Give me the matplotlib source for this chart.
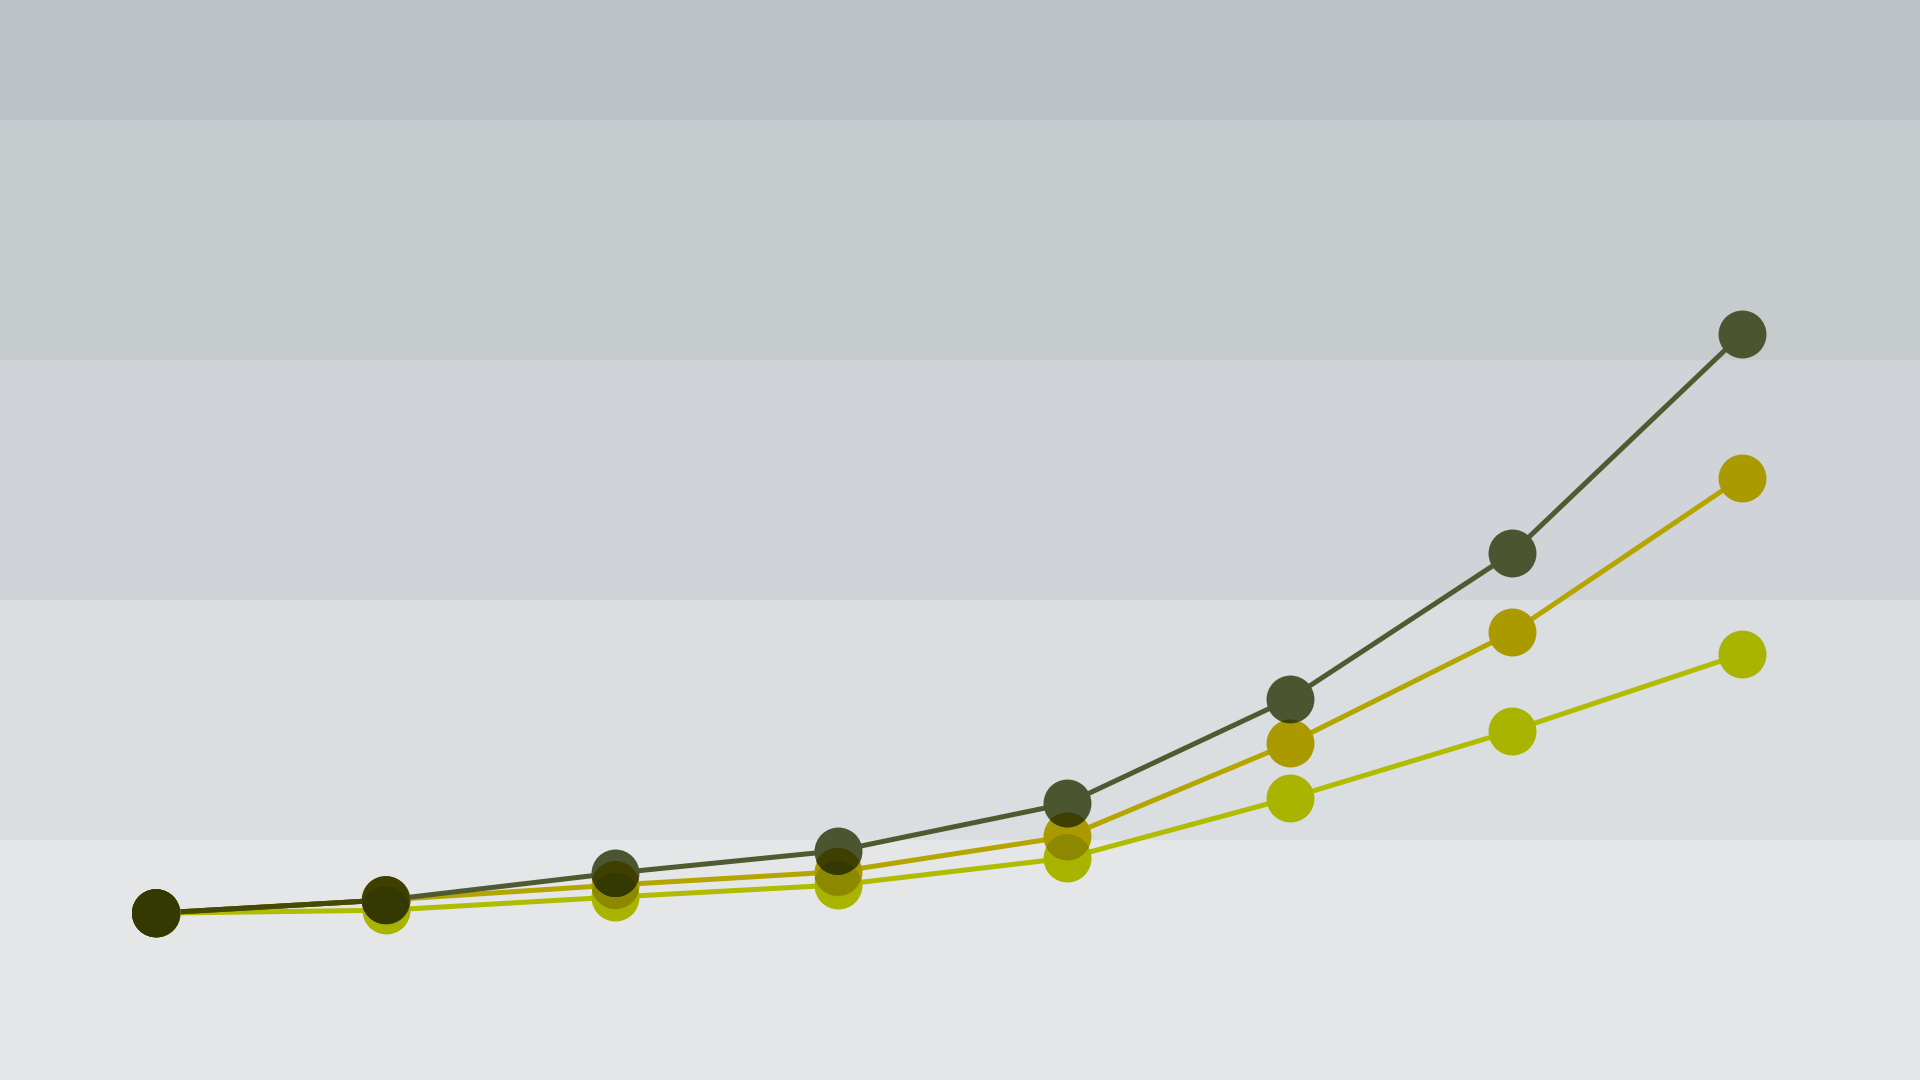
import itertools
import numpy as np
import matplotlib
matplotlib.use("Agg")
import matplotlib.pyplot as plt
from matplotlib.colors import to_rgb
from matplotlib.patches import Polygon
from matplotlib.transforms import IdentityTransform

# Data (x = days from the first observation, y = value)
days = [0, 31, 62, 92, 123, 153, 183, 214]
light = [13.9, 14.15, 15.25, 16.25, 18.5, 23.5, 29.1, 35.5]
gold = [13.9, 15.0, 16.25, 17.35, 20.3, 28.05, 37.3, 50.2]
dark = [13.9, 15.0, 17.25, 19.1, 23.05, 31.75, 43.9, 62.15]

# background bands
band_edges = [0, 20, 40, 60, 80, 90]
band_colors = ['#e4e6e8', '#dadee0', '#d0d4d8', '#c6cbce', '#bdc1c8']

# draw order: light first, dark on top
series = [light, gold, dark]
line_colors = ['#b0bc00', '#b5a500', '#4f5a30']
marker_colors = ['#a8b400', '#aa9a00', '#4b5530']

MS = 34.5      # marker size in points (~48 px)
LW = 3.6
BASE = 0.8     # used for the "multiply" look where marks overlap


def multiply(cols):
    c = np.prod([to_rgb(x) for x in cols], axis=0) / BASE ** (len(cols) - 1)
    return tuple(np.clip(c, 0, 1))


fig = plt.figure(figsize=(19.2, 10.8), dpi=100)
ax = fig.add_axes([0, 0, 1, 1])
ax.set_xlim(-21.05, 238.06)
ax.set_ylim(0, 90)
ax.set_axis_off()

for lo, hi, col in zip(band_edges[:-1], band_edges[1:], band_colors):
    ax.axhspan(lo, hi, color=col, lw=0, zorder=0)

# lines
for vals, lc in zip(series, line_colors):
    ax.plot(days, vals, color=lc, lw=LW, solid_capstyle='butt', zorder=2)

# segments shared by two series look darker
for i in range(len(days) - 1):
    for a, b in itertools.combinations(range(len(series)), 2):
        if series[a][i] == series[b][i] and series[a][i + 1] == series[b][i + 1]:
            ax.plot(days[i:i + 2], series[b][i:i + 2], lw=LW,
                    color=multiply([line_colors[a], line_colors[b]]), zorder=2.5)

# markers
for vals, mc in zip(series, marker_colors):
    ax.plot(days, vals, 'o', ms=MS, color=mc, mec='none', zorder=3)

# overlapping markers: darker intersection regions
r = MS / 2 * fig.dpi / 72
ang = np.linspace(0, 2 * np.pi, 720, endpoint=False)
pix = [ax.transData.transform(np.column_stack([days, v])) for v in series]
for i in range(len(days)):
    for k in (2, 3):
        for combo in itertools.combinations(range(len(series)), k):
            cs = [pix[s][i] for s in combo]
            if any(np.hypot(*(p - q)) >= 2 * r for p, q in itertools.combinations(cs, 2)):
                continue
            pts = []
            for c in cs:
                circ = c + r * np.column_stack([np.cos(ang), np.sin(ang)])
                ok = np.ones(len(circ), bool)
                for o in cs:
                    ok &= np.hypot(*(circ - o).T) <= r + 1e-6
                pts.append(circ[ok])
            pts = np.vstack(pts)
            if len(pts) < 3:
                continue
            m = pts.mean(axis=0)
            pts = pts[np.argsort(np.arctan2(pts[:, 1] - m[1], pts[:, 0] - m[0]))]
            col = multiply([marker_colors[s] for s in combo])
            ax.add_patch(Polygon(pts, closed=True, facecolor=col, edgecolor='none',
                                 transform=IdentityTransform(), zorder=3 + k * 0.1))

fig.savefig('out.png', dpi=100)
